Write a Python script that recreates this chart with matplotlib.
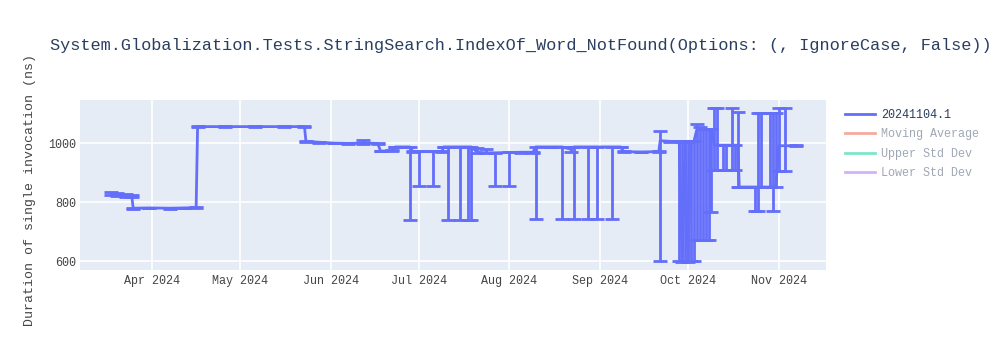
import matplotlib
matplotlib.use("Agg")
import matplotlib.pyplot as plt
import matplotlib.dates as mdates
from matplotlib.lines import Line2D
import pandas as pd

title = "System.Globalization.Tests.StringSearch.IndexOf_Word_NotFound(Options: (, IgnoreCase, False))"
y_label = "Duration of single invocation (ns)"
series_name = "20241104.1"
hidden_series = ["Moving Average", "Upper Std Dev", "Lower Std Dev"]

dates = [
    "2024-03-18", "2024-03-20", "2024-03-23", "2024-03-25", "2024-03-25 12:00",
    "2024-03-31", "2024-04-07", "2024-04-12", "2024-04-16", "2024-04-16 12:00",
    "2024-04-26", "2024-05-06", "2024-05-16", "2024-05-23", "2024-05-23 12:00",
    "2024-05-28", "2024-06-02", "2024-06-07", "2024-06-12", "2024-06-17",
    "2024-06-18", "2024-06-22", "2024-06-23", "2024-06-27", "2024-06-28",
    "2024-06-29", "2024-07-01", "2024-07-06", "2024-07-09", "2024-07-09 12:00",
    "2024-07-11", "2024-07-15", "2024-07-18", "2024-07-19", "2024-07-21",
    "2024-07-24", "2024-07-27", "2024-08-01", "2024-08-05", "2024-08-09",
    "2024-08-10", "2024-08-15", "2024-08-19", "2024-08-22", "2024-08-23",
    "2024-08-28", "2024-08-31", "2024-09-05", "2024-09-08", "2024-09-09",
    "2024-09-15", "2024-09-21", "2024-09-21 12:00", "2024-09-25", "2024-09-28",
    "2024-09-29", "2024-09-30", "2024-10-01", "2024-10-02", "2024-10-03",
    "2024-10-04", "2024-10-05", "2024-10-06", "2024-10-07", "2024-10-08",
    "2024-10-09", "2024-10-10", "2024-10-11", "2024-10-13", "2024-10-14",
    "2024-10-16", "2024-10-17", "2024-10-18", "2024-10-18 12:00", "2024-10-21",
    "2024-10-24", "2024-10-25", "2024-10-26", "2024-10-29", "2024-10-30",
    "2024-10-31", "2024-11-01", "2024-11-03", "2024-11-07",
]
values = [
    830, 826, 824, 822, 780,
    781, 780, 781, 782, 1057,
    1057, 1057, 1057, 1057, 1007,
    1004, 1001, 1000, 1001, 1000,
    974, 975, 988, 988, 988,
    972, 972, 972, 972, 988,
    988, 988, 988, 988, 970,
    968, 968, 969, 970, 970,
    988, 988, 988, 980, 988,
    988, 988, 988, 988, 972,
    971, 972, 1009, 1007, 1006,
    600, 1006, 600, 1006, 1006,
    1047, 1047, 1047, 1047, 1047,
    1047, 994, 994, 994, 994,
    994, 994, 994, 852, 852,
    852, 852, 852, 852, 852,
    852, 992, 992, 992,
]
lower = [
    824, 821, 819, 817, 779,
    780, 779, 780, 781, 1056,
    1056, 1056, 1056, 1056, 1006,
    1003, 1000, 999, 999, 999,
    973, 974, 987, 987, 740,
    971, 855, 855, 971, 987,
    740, 740, 740, 740, 969,
    967, 855, 855, 969, 969,
    743, 987, 743, 972, 743,
    743, 743, 743, 987, 971,
    970, 971, 600, 1006, 600,
    599, 600, 599, 600, 600,
    672, 672, 672, 672, 672,
    768, 909, 909, 909, 909,
    909, 909, 852, 851, 851,
    771, 771, 851, 851, 771,
    851, 907, 907, 991,
]
upper = [
    834, 831, 828, 826, 781,
    782, 781, 782, 783, 1058,
    1058, 1058, 1058, 1058, 1008,
    1005, 1002, 1001, 1011, 1001,
    975, 976, 989, 989, 989,
    973, 973, 973, 973, 989,
    989, 989, 989, 989, 986,
    982, 969, 970, 971, 971,
    989, 989, 989, 988, 989,
    989, 989, 989, 989, 973,
    972, 973, 1043, 1008, 1007,
    1006, 1007, 1006, 1007, 1007,
    1065, 1055, 1048, 1048, 1048,
    1048, 1119, 1119, 995, 995,
    1119, 995, 1107, 853, 853,
    853, 1103, 1103, 1103, 1103,
    1103, 1119, 1119, 993,
]

x = pd.to_datetime(dates, format="mixed")
err_lo = [v - l for v, l in zip(values, lower)]
err_hi = [h - v for v, h in zip(values, upper)]

LINE = "#636efa"
hidden_colors = ["#f6aa9d", "#7fe5ca", "#d5b1fc"]
TEXT = "#2a3f5f"
FONT = "Liberation Mono"

plt.rcParams["font.family"] = [FONT, "DejaVu Sans"]

fig = plt.figure(figsize=(10, 3.5), dpi=100)
ax = fig.add_axes([0.080, 0.230, 0.746, 0.484])
ax.set_facecolor("#E5ECF6")

ax.errorbar(x, values, yerr=[err_lo, err_hi], color=LINE, lw=2,
            elinewidth=2, capsize=5, capthick=2, zorder=3)

ax.set_xlim(pd.Timestamp("2024-03-07 08:00"), pd.Timestamp("2024-11-17 03:00"))
ax.set_ylim(572, 1147)
ax.set_yticks([600, 800, 1000])
ax.xaxis.set_major_locator(mdates.MonthLocator())
ax.xaxis.set_major_formatter(mdates.DateFormatter("%b %Y"))
ax.grid(True, color="white", lw=1.2, zorder=0)
ax.set_axisbelow(True)
for s in ax.spines.values():
    s.set_visible(False)
ax.tick_params(length=0, labelsize=8.5, colors="#444444")
ax.tick_params(axis="x", pad=4)
ax.tick_params(axis="y", pad=2.5)

fig.text(0.030, 0.458, y_label, rotation=90, ha="center", va="center",
         fontsize=9.5, color="#444444")
fig.text(0.050, 0.869, title, ha="left", va="center", fontsize=12.2, color=TEXT)

handles = [Line2D([], [], color=LINE, lw=2)] + [Line2D([], [], color=c, lw=2) for c in hidden_colors]
labels = [series_name] + hidden_series
leg = fig.legend(handles, labels, loc="upper left", bbox_to_anchor=(0.840, 0.703),
                 frameon=False, fontsize=8.5, handlelength=2.6, handletextpad=0.45,
                 labelspacing=0.64, borderaxespad=0,
                 labelcolor=[TEXT, "#a0a8b5", "#a0a8b5", "#a0a8b5"])

fig.savefig("out.png", dpi=100, facecolor="white")
